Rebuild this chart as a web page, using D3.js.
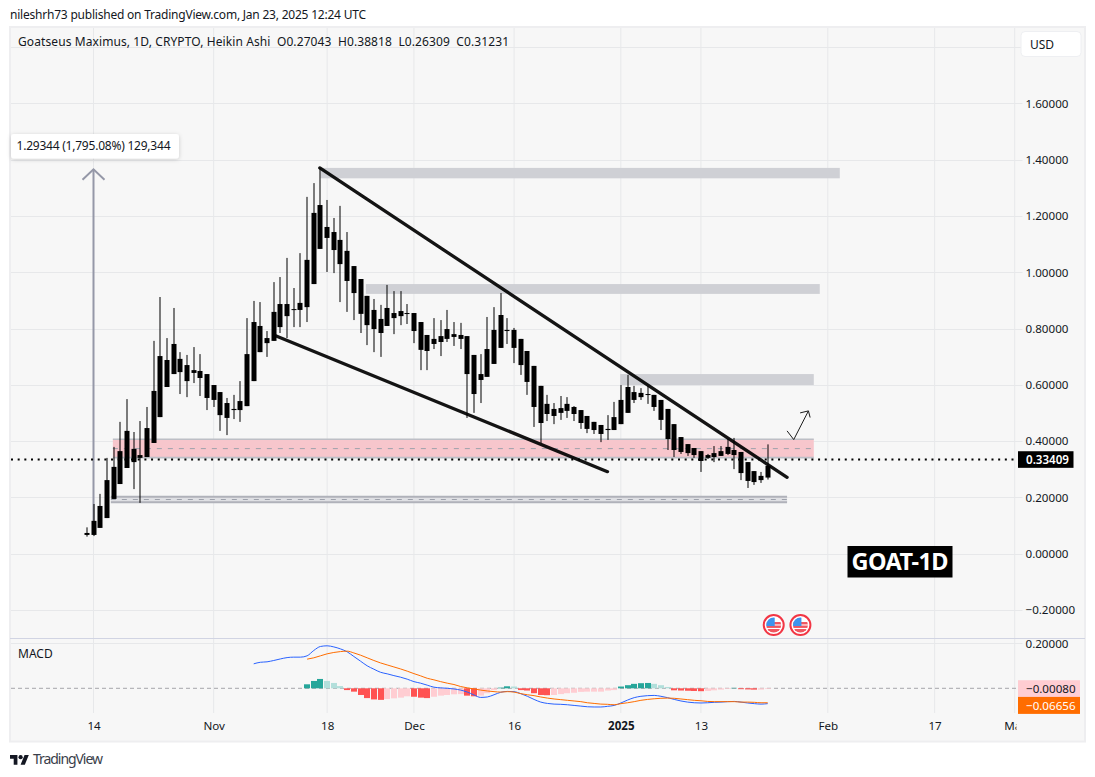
<!DOCTYPE html>
<html><head><meta charset="utf-8">
<script src="https://cdn.jsdelivr.net/npm/d3@7/dist/d3.min.js"></script>
<style>
html,body{margin:0;padding:0;background:#fff;overflow:hidden}
svg{display:block}
text{font-family:"Noto Sans",sans-serif;fill:#131722}
</style></head><body><div id="c"></div>
<script>
// ---- Data: day offset from 14 Oct 2024, first candle is 13 Oct
const firstDay = -1;
const candleHigh = [.093,.176,.212,.340,.379,.468,.549,.432,.471,.521,.756,.912,.766,.873,.716,.706,.734,.709,.638,.599,.574,.553,.564,.613,.837,.898,.894,.791,.965,.983,1.051,.944,1.068,1.268,1.317,1.371,1.257,1.193,1.236,1.143,1.022,.976,.916,.905,.884,.955,.933,.933,.887,.855,.823,.777,.837,.830,.866,.823,.820,.773,.706,.709,.841,.876,.926,.837,.802,.763,.720,.667,.596,.564,.535,.560,.556,.524,.510,.489,.468,.457,.492,.539,.599,.635,.596,.588,.596,.564,.546,.514,.460,.414,.389,.375,.364,.354,.382,.382,.407,.411,.361,.325,.293,.290,.388];
const candleTop = [.073,.116,.169,.261,.308,.364,.436,.372,.350,.446,.578,.702,.688,.745,.692,.670,.652,.649,.638,.599,.574,.535,.514,.542,.709,.823,.809,.766,.859,.887,.887,.869,.891,1.044,1.211,1.239,1.161,1.143,1.115,1.076,1.022,.976,.916,.866,.834,.873,.855,.862,.855,.855,.823,.777,.763,.773,.798,.780,.777,.773,.706,.638,.727,.795,.848,.795,.795,.763,.720,.667,.596,.532,.514,.517,.532,.521,.510,.489,.468,.457,.443,.485,.546,.592,.574,.571,.567,.564,.546,.514,.460,.414,.389,.375,.364,.350,.357,.364,.379,.368,.361,.325,.293,.276,.312];
const candleBottom = [.066,.066,.091,.126,.194,.247,.304,.325,.340,.343,.393,.485,.592,.638,.645,.613,.642,.624,.553,.546,.492,.482,.510,.510,.524,.613,.716,.748,.756,.805,.844,.866,.866,.876,.958,1.083,1.122,1.079,1.029,.969,.926,.852,.812,.798,.784,.809,.837,.844,.852,.791,.724,.720,.745,.752,.763,.770,.763,.638,.567,.617,.628,.674,.731,.791,.731,.670,.610,.521,.464,.496,.489,.500,.507,.496,.464,.443,.439,.425,.439,.439,.460,.500,.546,.556,.564,.521,.475,.407,.368,.361,.357,.350,.329,.340,.343,.347,.354,.350,.286,.258,.254,.261,.270];
const candleLow = [.060,.062,.091,.126,.194,.247,.304,.229,.180,.343,.393,.485,.592,.638,.567,.556,.606,.560,.510,.521,.436,.421,.478,.468,.524,.613,.716,.699,.756,.784,.766,.805,.805,.823,.958,1.083,1.001,.997,.894,.859,.830,.784,.741,.716,.699,.809,.780,.812,.816,.748,.652,.652,.727,.702,.752,.738,.727,.482,.500,.535,.628,.674,.731,.745,.677,.635,.564,.450,.393,.471,.460,.475,.482,.471,.443,.428,.425,.396,.404,.439,.460,.500,.535,.546,.532,.507,.439,.368,.343,.354,.347,.340,.290,.336,.325,.347,.350,.300,.261,.233,.244,.251,.263];

const histStart = 32;
const histValues = [.018,.033,.042,.033,.024,.010,-.008,-.015,-.030,-.044,-.050,-.052,-.048,-.045,-.042,-.036,-.038,-.042,-.044,-.038,-.033,-.030,-.027,-.026,-.033,-.036,-.033,-.022,-.008,.003,.009,.008,-.008,-.010,-.022,-.030,-.031,-.030,-.026,-.022,-.020,-.016,-.015,-.015,-.015,-.010,-.008,.008,.014,.020,.023,.024,.020,.014,.006,-.009,-.010,-.011,-.012,-.013,-.012,-.009,-.006,-.003,.002,-.004,-.005,-.006,-.006,-.003];
const macdStart = 24;
const macdValues = [.110,.117,.119,.125,.132,.138,.140,.140,.146,.170,.188,.191,.186,.177,.164,.143,.122,.101,.086,.072,.065,.057,.050,.041,.030,.023,.014,.005,.002,0,-.003,-.008,-.017,-.030,-.041,-.039,-.029,-.018,-.014,-.015,-.024,-.036,-.050,-.062,-.068,-.071,-.072,-.074,-.077,-.080,-.083,-.084,-.084,-.081,-.077,-.066,-.053,-.042,-.036,-.033,-.032,-.036,-.042,-.050,-.057,-.062,-.065,-.066,-.065,-.063,-.062,-.060,-.059,-.062,-.066,-.069,-.071,-.069];
const signalStart = 32;
const signalValues = [.131,.137,.146,.155,.161,.165,.167,.159,.149,.137,.125,.114,.105,.096,.087,.077,.066,.056,.045,.038,.030,.023,.017,.008,.002,-.003,-.008,-.012,-.015,-.017,-.015,-.017,-.024,-.029,-.033,-.039,-.044,-.048,-.051,-.054,-.057,-.060,-.065,-.068,-.071,-.072,-.074,-.069,-.065,-.060,-.054,-.050,-.047,-.045,-.044,-.045,-.048,-.051,-.054,-.056,-.059,-.060,-.060,-.060,-.060,-.062,-.062,-.063,-.065,-.065];

const priceTicks = [1.6,1.4,1.2,1.0,.8,.6,.4,.2,0,-.2];
const timeTickDays = [0,18,35,48,63,79,91,110,126,138];
const timeTickLabels = ["14","Nov","18","Dec","16","2025","13","Feb","17","Mar"];
const lastPrice = 0.33409;
const macdLastHist = "−0.00080", macdLastSignal = "−0.06656";
const macdLastHistValue = -0.0008;
// annotations in [day, price] terms
const grayZones = [[34,111.8,1.371,1.334],[40.8,108.8,.958,.923],[78.9,107.9,.638,.599]];
const pinkZone = [2.9,107.9,.406,.341,.373];
const lowZone = [2.6,103.9,.202,.182,.192];
const trendLines = [[33.9,1.371,103.9,.271],[27,.777,77,.291]];
const measureArrow = [0,.072,1.366];
const forecastPath = [[103.9,.436],[104.9,.405],[107.1,.507]];
const flagDays = [101.9,105.9];
const flagPrice = -.2543;

// ---- Scales
const x = d3.scaleLinear().domain([0,138]).range([93.5,1014.7]);
const y = d3.scaleLinear().domain([-.2,1.8]).range([609.75,47.25]);
const ym = d3.scaleLinear().domain([-.1,.2]).range([710.55,643.8]);
const days = candleHigh.map((_,i)=>firstDay+i);
const plotL=11, plotR=1016.5, priceTop=28, paneSep=638.5, paneBot=713;
const axisFont = "11.6px";

const svg = d3.select("#c").append("svg").attr("width",1095).attr("height",777);
const defs = svg.append("defs");
defs.append("clipPath").attr("id","plotclip").append("rect").attr("x",plotL).attr("y",priceTop).attr("width",plotR-plotL).attr("height",paneBot-priceTop);
defs.append("clipPath").attr("id","timeclip").append("rect").attr("x",plotL).attr("y",715).attr("width",plotR-plotL).attr("height",25);
const sh = defs.append("filter").attr("id","sh").attr("x","-10%").attr("y","-30%").attr("width","120%").attr("height","170%");
sh.append("feDropShadow").attr("dx",0).attr("dy",1).attr("stdDeviation",2).attr("flood-color","#000").attr("flood-opacity",.18);

// header + frame
svg.append("text").attr("x",10).attr("y",19).style("font-size","12px").text("nileshrh73 published on TradingView.com, Jan 23, 2025 12:24 UTC").attr("textLength",356);
svg.append("rect").attr("x",10).attr("y",27).attr("width",1075).attr("height",714.5).attr("fill","#f7f7f7").attr("stroke","#eeeef0").attr("stroke-width",2);

// grids
const grid = svg.append("g").attr("stroke","#e7e8ea").attr("stroke-width",1);
grid.selectAll(".gv").data(timeTickDays).join("line").attr("x1",d=>x(d)).attr("x2",d=>x(d)).attr("y1",priceTop).attr("y2",paneBot);
grid.selectAll(".gh").data(priceTicks.concat([1.8])).join("line").attr("x1",plotL).attr("x2",plotR+6).attr("y1",d=>Math.round(y(d))+.5).attr("y2",d=>Math.round(y(d))+.5);
grid.append("line").attr("x1",plotL).attr("x2",plotR+6).attr("y1",643.5).attr("y2",643.5);
svg.append("line").attr("x1",10).attr("x2",1085).attr("y1",paneSep).attr("y2",paneSep).attr("stroke","#d1d4e3").attr("stroke-width",1);

const plot = svg.append("g").attr("clip-path","url(#plotclip)");

// zones
const zg = plot.append("g");
zg.selectAll(".z").data(grayZones).join("rect").attr("x",d=>x(d[0])).attr("width",d=>x(d[1])-x(d[0])).attr("y",d=>y(d[2])).attr("height",d=>y(d[3])-y(d[2])).attr("fill","#cfd0d5");
function band(z,fill,bord,bw){
  zg.append("rect").attr("x",x(z[0])).attr("width",x(z[1])-x(z[0])).attr("y",y(z[2])).attr("height",y(z[3])-y(z[2])).attr("fill",fill);
  [z[2],z[3]].forEach(p=>zg.append("line").attr("x1",x(z[0])).attr("x2",x(z[1])).attr("y1",y(p)).attr("y2",y(p)).attr("stroke",bord).attr("stroke-width",bw));
  zg.append("line").attr("x1",x(z[0])).attr("x2",x(z[1])).attr("y1",y(z[4])).attr("y2",y(z[4])).attr("stroke","#9ea2ac").attr("stroke-width",1).attr("stroke-dasharray","5,6");
}
band(pinkZone,"#f7c6cc","#bdbfc6",1.6);
band(lowZone,"#dfe0e4","#b0b2ba",2);

// measure arrow
const ma = plot.append("g").attr("stroke","#9598a8").attr("stroke-width",2).attr("fill","none");
ma.append("line").attr("x1",x(measureArrow[0])).attr("x2",x(measureArrow[0])).attr("y1",y(measureArrow[1])).attr("y2",y(measureArrow[2]));
ma.append("path").attr("d",d3.line()([[x(0)-11,y(measureArrow[2])+10.5],[x(0),y(measureArrow[2])],[x(0)+11,y(measureArrow[2])+10.5]]));

// last price dotted
plot.append("line").attr("x1",plotL).attr("x2",plotR).attr("y1",y(lastPrice)).attr("y2",y(lastPrice)).attr("stroke","#000").attr("stroke-width",2).attr("stroke-dasharray","2,4.67");

// candles
const cg = plot.append("g");
cg.selectAll(".w").data(days).join("rect").attr("x",d=>Math.round(x(d))-.5).attr("width",1)
  .attr("y",(d,i)=>y(candleHigh[i])).attr("height",(d,i)=>y(candleLow[i])-y(candleHigh[i])).attr("fill","#000");
cg.selectAll(".b").data(days).join("rect").attr("x",d=>Math.round(x(d))-2.5).attr("width",5)
  .attr("y",(d,i)=>y(candleTop[i])).attr("height",(d,i)=>Math.max(1,y(candleBottom[i])-y(candleTop[i]))).attr("fill","#000");

// trend lines
plot.selectAll(".tl").data(trendLines).join("line").attr("x1",d=>x(d[0])).attr("y1",d=>y(d[1])).attr("x2",d=>x(d[2])).attr("y2",d=>y(d[3]))
  .attr("stroke","#000").attr("stroke-opacity",.92).attr("stroke-width",3.3).attr("stroke-linecap","round");

// forecast arrow
const fp = forecastPath.map(p=>[x(p[0]),y(p[1])]);
const tip = fp[2];
plot.append("path").attr("d",d3.line()(fp)).attr("fill","none").attr("stroke","#1c1c1c").attr("stroke-width",1);
plot.append("path").attr("d",d3.line()([[tip[0]-8.3,tip[1]+2],tip,[tip[0]+1.7,tip[1]+6.6]])).attr("fill","none").attr("stroke","#1c1c1c").attr("stroke-width",1);

// flags
const fg = plot.append("g");
flagDays.forEach((d,i)=>{
  const cx=x(d), cy=y(flagPrice), id="fc"+i;
  defs.append("clipPath").attr("id",id).append("circle").attr("cx",cx).attr("cy",cy).attr("r",7.5);
  fg.append("circle").attr("cx",cx).attr("cy",cy).attr("r",10).attr("fill","#fff").attr("stroke","#f23645").attr("stroke-width",2);
  const f=fg.append("g").attr("clip-path",`url(#${id})`);
  f.append("rect").attr("x",cx-8).attr("y",cy-8).attr("width",16).attr("height",16).attr("fill","#fff");
  [-3,0.5,4].forEach(o=>f.append("rect").attr("x",cx-8).attr("y",cy+o).attr("width",16).attr("height",2.4).attr("fill","#f0555f"));
  f.append("rect").attr("x",cx-8).attr("y",cy+5).attr("width",16).attr("height",4).attr("fill","#f0555f");
  f.append("rect").attr("x",cx-8).attr("y",cy-8).attr("width",9).attr("height",9).attr("fill","#3d94ee");
});

// GOAT label
svg.append("rect").attr("x",847.5).attr("y",546).attr("width",105).attr("height",31.5).attr("fill","#000");
svg.append("text").attr("x",900).attr("y",570).attr("text-anchor","middle").style("font-size","23.5px").style("font-weight","700").style("fill","#fff").text("GOAT-1D").attr("textLength",97);

// MACD pane
const mg = plot.append("g");
mg.append("line").attr("x1",plotL).attr("x2",plotR).attr("y1",ym(0)).attr("y2",ym(0)).attr("stroke","#a5a5aa").attr("stroke-width",1).attr("stroke-dasharray","4,3");
function barColor(v,i){
  const p=i?histValues[i-1]:0;
  return v>=0?(v>p?"#26a69a":"#b2dfdb"):(v<p?"#ff5252":"#ffcdd2");
}
mg.selectAll(".h").data(histValues).join("rect")
  .attr("x",(d,i)=>Math.round(x(histStart+i))-3).attr("width",6)
  .attr("y",d=>Math.min(ym(d),ym(0))).attr("height",d=>Math.abs(ym(d)-ym(0)))
  .attr("fill",barColor);
const curve=d3.curveMonotoneX;
mg.append("path").attr("d",d3.line().curve(curve).x((d,i)=>x(macdStart+i)).y(d=>ym(d))(macdValues)).attr("fill","none").attr("stroke","#2962ff").attr("stroke-width",1);
mg.append("path").attr("d",d3.line().curve(curve).x((d,i)=>x(signalStart+i)).y(d=>ym(d))(signalValues)).attr("fill","none").attr("stroke","#ff6d00").attr("stroke-width",1);

// axes
const pa = svg.append("g").attr("class","pa").attr("transform",`translate(${plotR},0)`)
  .call(d3.axisRight(y).tickValues(priceTicks).tickFormat(d3.format(".5f")).tickSize(0).tickPadding(9));
pa.select(".domain").remove();
pa.selectAll("text").style("font-family",'"Noto Sans",sans-serif').style("font-size",axisFont).attr("dy","0.33em");
const mx = svg.append("g").attr("class","ma").attr("transform",`translate(${plotR},0)`)
  .call(d3.axisRight(ym).tickValues([.2]).tickFormat(d3.format(".5f")).tickSize(0).tickPadding(9));
mx.select(".domain").remove();
mx.selectAll("text").style("font-family",'"Noto Sans",sans-serif').style("font-size",axisFont).attr("dy","0.33em");
const ta = svg.append("g").attr("class","ta").attr("clip-path","url(#timeclip)");
const tg = ta.append("g").attr("transform","translate(0,713)")
  .call(d3.axisBottom(x).tickValues(timeTickDays).tickFormat((d,i)=>timeTickLabels[i]).tickSize(0).tickPadding(9));
tg.select(".domain").remove();
tg.selectAll("text").style("font-family",'"Noto Sans",sans-serif').style("font-size",axisFont).style("font-weight",(d,i)=>timeTickLabels[i]==="2025"?"700":"400");

// price labels
function tag(yc,h,w,fill,txt,color,bold){
  svg.append("rect").attr("x",1018).attr("y",yc-h/2).attr("width",w).attr("height",h).attr("fill",fill);
  svg.append("text").attr("x",1026).attr("y",yc+4.3).style("font-size",axisFont).style("font-weight",bold?"600":"400").style("fill",color).text(txt);
}
tag(y(lastPrice),16.6,55.5,"#000",d3.format(".5f")(lastPrice),"#fff",true);
tag(ym(macdLastHistValue)+.1,16.7,62,"#ffcdd2",macdLastHist,"#131722");
tag(705.4,17,62,"#ff6d00",macdLastSignal,"#fff");

// USD
svg.append("rect").attr("x",1021).attr("y",31.5).attr("width",60).attr("height",25).attr("rx",4).attr("fill","#fff").attr("stroke","#eeeff2");
svg.append("text").attr("x",1030).attr("y",48.5).style("font-size","12px").text("USD");

// legend texts
svg.append("text").attr("x",18).attr("y",46).style("font-size","12px").attr("xml:space","preserve").style("white-space","pre").text("Goatseus Maximus, 1D, CRYPTO, Heikin Ashi  O0.27043  H0.38818  L0.26309  C0.31231").attr("textLength",491);
svg.append("text").attr("x",18).attr("y",658).style("font-size","12px").text("MACD");

// measure label
svg.append("rect").attr("x",11).attr("y",134).attr("width",168).attr("height",24.5).attr("rx",3).attr("fill","#fff").attr("filter","url(#sh)");
svg.append("text").attr("x",16.5).attr("y",150).style("font-size","12px").text("1.29344 (1,795.08%) 129,344").attr("textLength",154);

// TradingView logo
const logo = svg.append("g").attr("transform","translate(10,753) scale(.53)").attr("fill","#131722");
logo.append("path").attr("d","M14 22H7V11H0V4h14v18zM28 22h-8l7.5-18h8L28 22z");
logo.append("circle").attr("cx",20).attr("cy",8).attr("r",4);
svg.append("text").attr("x",33).attr("y",764).style("font-size","14px").style("fill","#3a3e4a").text("TradingView").attr("textLength",70);
</script></body></html>
